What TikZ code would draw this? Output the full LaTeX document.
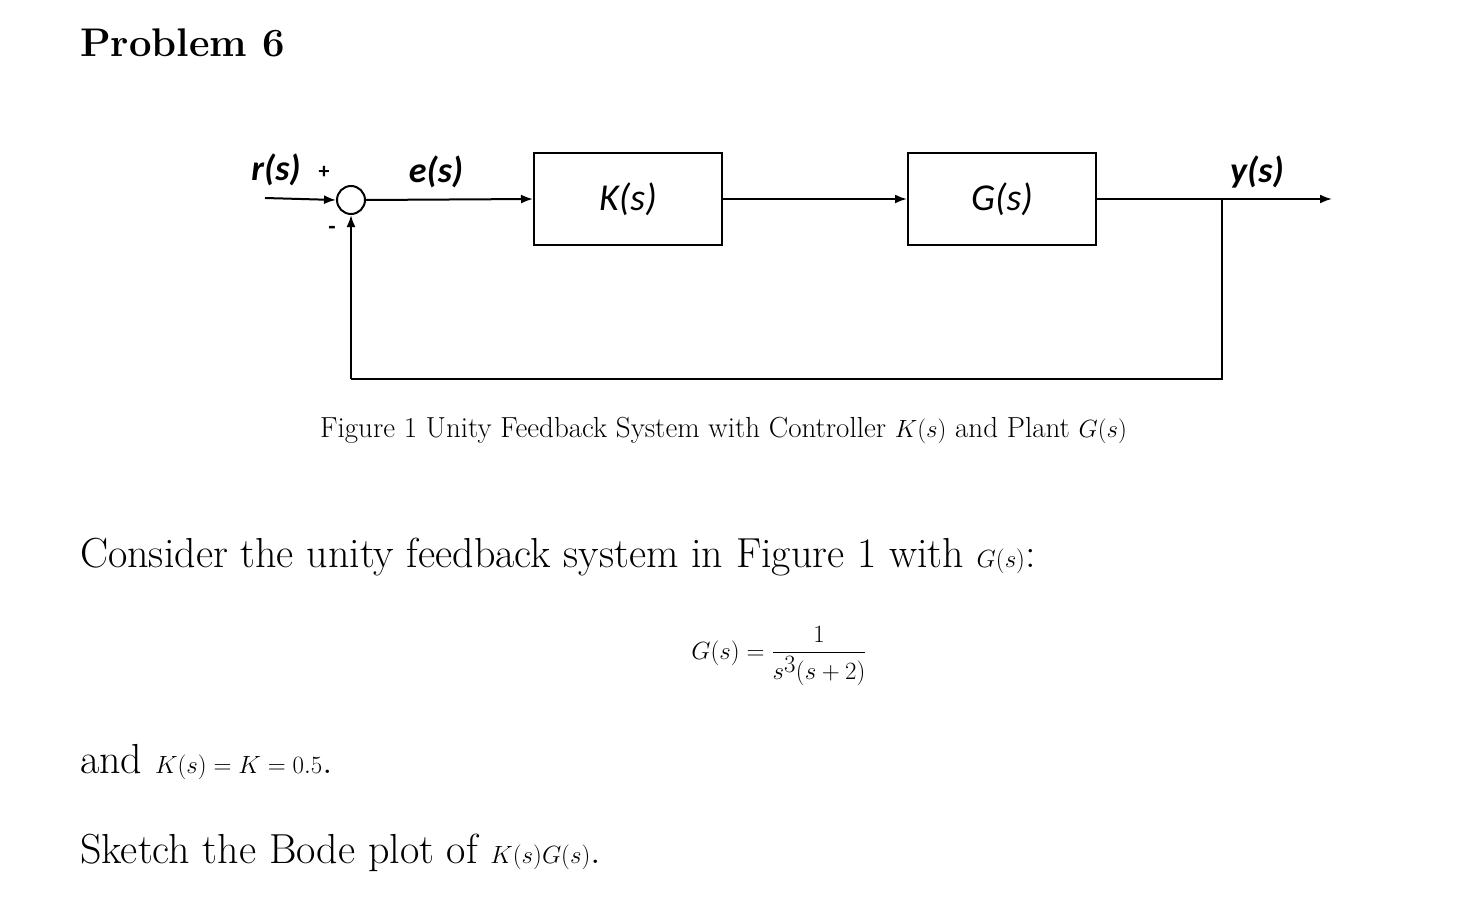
\documentclass[tikz,border=0pt]{standalone}
\usepackage{amsmath}
\usepackage{fontspec}
\newfontfamily\carl{Carlito}
\usetikzlibrary{arrows.meta}
\begin{document}
\begin{tikzpicture}[x=1pt,y=-1pt,
  blk/.style={draw,line width=2pt,minimum width=188pt,minimum height=92pt,inner sep=0pt},
  sig/.style={line width=2pt},
  arr/.style={sig,-{Latex[length=12pt,width=9pt]}},
  lbl/.style={font=\carl\bfseries\itshape\fontsize{36}{40}\selectfont},
  txt/.style={anchor=base west,inner sep=0pt,font=\fontsize{42}{50}\selectfont}]
\useasboundingbox (0,0) rectangle (1472,912);
\node[anchor=base west,inner sep=0pt,font=\bfseries\fontsize{40}{48}\selectfont] (title) at (80,57) {Problem 6};
\node[draw,circle,line width=2pt,minimum size=28pt,inner sep=0pt] (sum) at (351,200) {};
\node[blk] (K) at (628,199) {\carl\itshape\fontsize{38}{42}\selectfont K(s)};
\node[blk] (G) at (1002,199) {\carl\itshape\fontsize{38}{42}\selectfont G(s)};
\coordinate (in) at (265,198);
\coordinate (out) at (1332,199);
\coordinate (tap) at (1222,199);
\coordinate (b1) at (1222,379);
\coordinate (b2) at (351,379);
\draw[arr] (in) -- (sum.west);
\draw[arr] (sum.east) -- (K.west);
\draw[arr] (K.east) -- (G.west);
\draw[arr] (G.east) -- (out);
\draw[sig] (tap) -- (b1) -- (b2);
\draw[arr] (b2) -- (sum.south);
\node[lbl] (r) at (276,170) {r(s)};
\node[font=\carl\bfseries\fontsize{22}{24}\selectfont] (plus) at (324,172) {+};
\node[font=\carl\bfseries\fontsize{24}{26}\selectfont] (minus) at (332,230) {-};
\node[lbl] (e) at (436,172) {e(s)};
\node[lbl] (y) at (1257,172) {y(s)};
\node[anchor=base west,inner sep=0pt,font=\fontsize{29}{34}\selectfont] (cap) at (320,437) {Figure 1 Unity Feedback System with Controller $K(s)$ and Plant $G(s)$};
\node[txt] (t1) at (80,567) {Consider the unity feedback system in Figure 1 with $G(s)$:};
\node[anchor=center,inner sep=0pt,font=\fontsize{42}{50}\selectfont] (eq) at (779,656) {$\displaystyle G(s)=\frac{1}{s^3(s+2)}$};
\node[txt] (t2) at (80,773) {and $K(s)=K=0.5$.};
\node[txt] (t3) at (80,863) {Sketch the Bode plot of $K(s)G(s)$.};
\end{tikzpicture}
\end{document}
